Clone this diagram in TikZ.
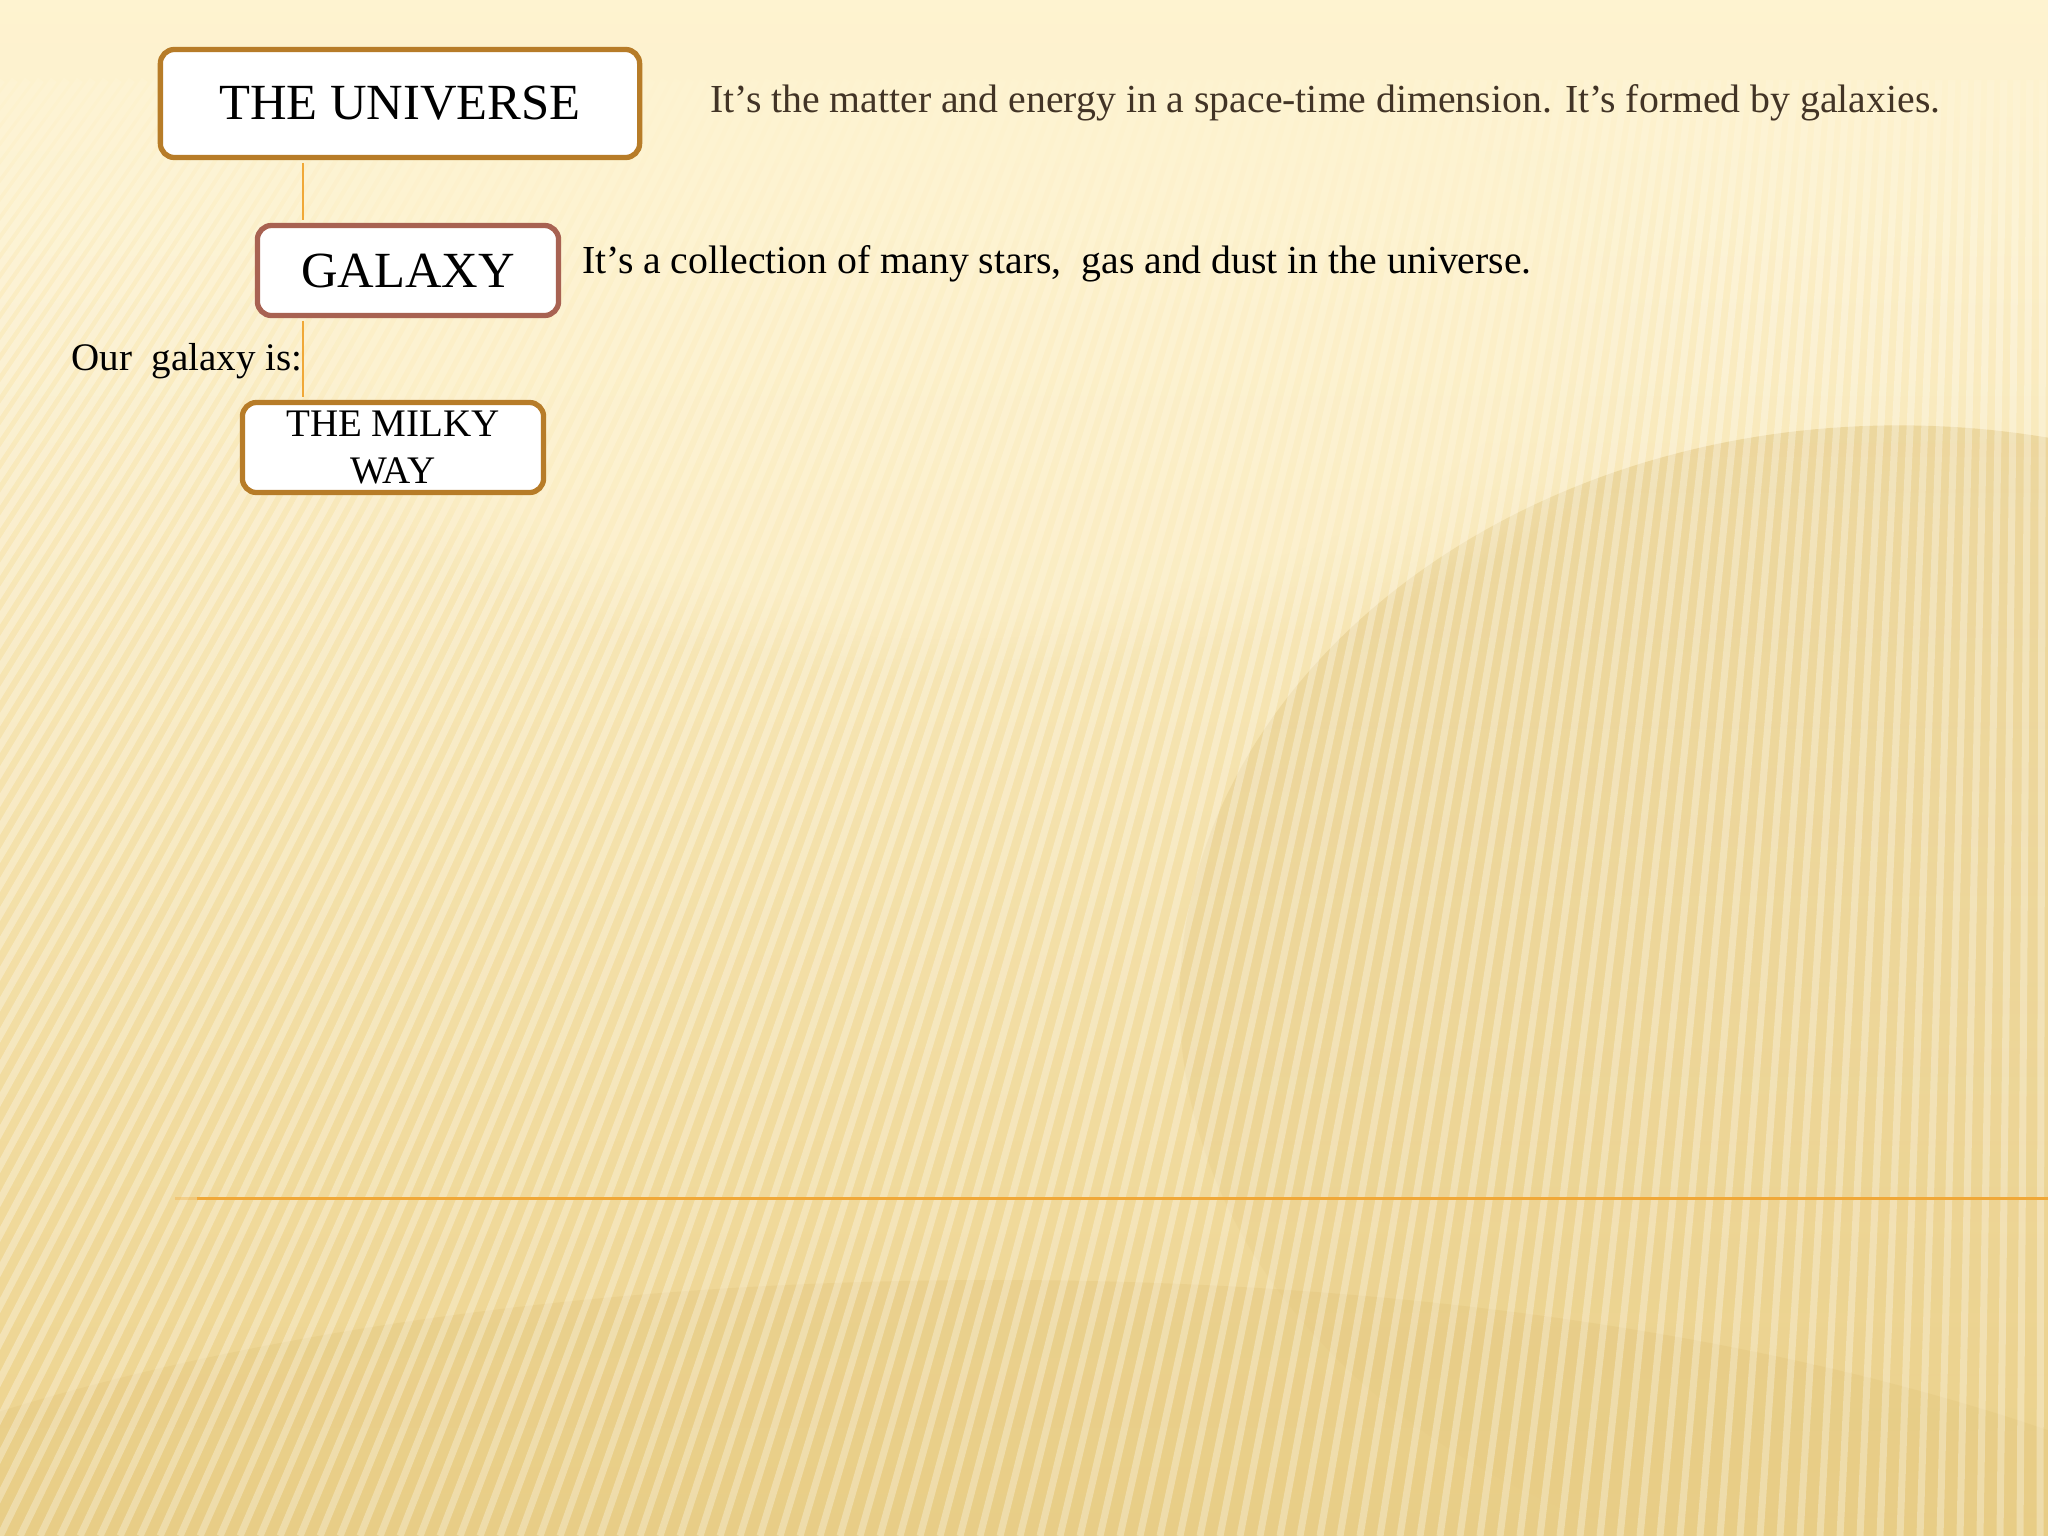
\documentclass[tikz,border=0pt]{standalone}
\usepackage{fontspec}
\setmainfont{Liberation Serif}
\usetikzlibrary{fadings}

\definecolor{bgtop}{RGB}{254,243,208}
\definecolor{bgmid}{RGB}{249,230,172}
\definecolor{bgbot}{RGB}{236,210,140}
\definecolor{domecol}{RGB}{214,180,100}
\definecolor{boxgold}{RGB}{183,124,40}
\definecolor{boxrust}{RGB}{168,98,82}
\definecolor{linkorange}{RGB}{240,168,56}
\definecolor{notebrown}{RGB}{66,52,38}

\tikzfading[name=fadetop, top color=transparent!0, bottom color=transparent!100]

\begin{document}
\begin{tikzpicture}[x=0.01cm, y=-0.01cm,
    card/.style={draw=boxgold, line width=1.5pt, rounded corners=4pt, fill=white,
      inner sep=0pt, align=center},
    bigtext/.style={font=\fontsize{14.4}{17}\selectfont},
    smalltext/.style={font=\fontsize{11.1}{13.4}\selectfont},
    note/.style={anchor=base west, inner sep=0pt, font=\fontsize{11.3}{13.4}\selectfont},
    link/.style={draw=linkorange, line width=0.6pt, shorten <=0.75pt, shorten >=0.75pt},
    stripe/.style={draw=white, line width=2pt, opacity=0.3}]

    % background
    \useasboundingbox (0,0) rectangle (2048,1536);
    \shade[top color=bgtop, middle color=bgmid, bottom color=bgbot] (0,0) rectangle (2048,1536);
    \begin{scope}
      \clip (0,0) rectangle (2048,1536);
      \fill[domecol, opacity=0.35, path fading=fadetop] (1900,1000) ellipse[x radius=720, y radius=575];
      \fill[domecol, opacity=0.18, path fading=fadetop] (1000,1800) ellipse[x radius=1500, y radius=520];
      \foreach \i in {-80,...,105}
        \draw[stripe] (\i*20,1536) -- ({\i*20+0.35*(2048-\i*20)},80);
      \fill[bgtop, path fading=fadetop] (0,0) rectangle (2048,300);
      \fill[bgtop, opacity=0.5, path fading=circle with fuzzy edge 20 percent]
        (950,300) ellipse[x radius=750, y radius=380];
    \end{scope}
    \draw[linkorange, line width=0.85pt, opacity=0.35] (175,1198) -- (197,1198);
    \draw[linkorange, line width=0.85pt] (197,1198) -- (2048,1198);

    % boxes
    \node[card, bigtext, minimum width=4.79cm, minimum height=1.08cm] (universe) at (400,103.5) {THE UNIVERSE};
    \node[card, bigtext, draw=boxrust, minimum width=3.01cm, minimum height=0.9cm] (galaxy) at (408,270.5) {GALAXY};
    \node[card, smalltext, minimum width=3.01cm, minimum height=0.9cm] (milky) at (393,447.5) {THE MILKY\\WAY};

    \coordinate (trunk) at (303,0);
    \draw[link] (universe.south -| trunk) -- (galaxy.north -| trunk);
    \draw[link] (galaxy.south -| trunk) -- (milky.north -| trunk);

    % texts
    \node[note, text=notebrown] (unitext) at (710,112) {It’s the matter and energy in a space-time dimension. It’s formed by galaxies.};
    \node[note] (galtext) at (582,273) {It’s a collection of many stars,\ \ gas and dust in the universe.};
    \node[smalltext, anchor=base east, inner sep=0pt] (ourtext) at (303,370) {Our\ \ galaxy is:};
\end{tikzpicture}
\end{document}
